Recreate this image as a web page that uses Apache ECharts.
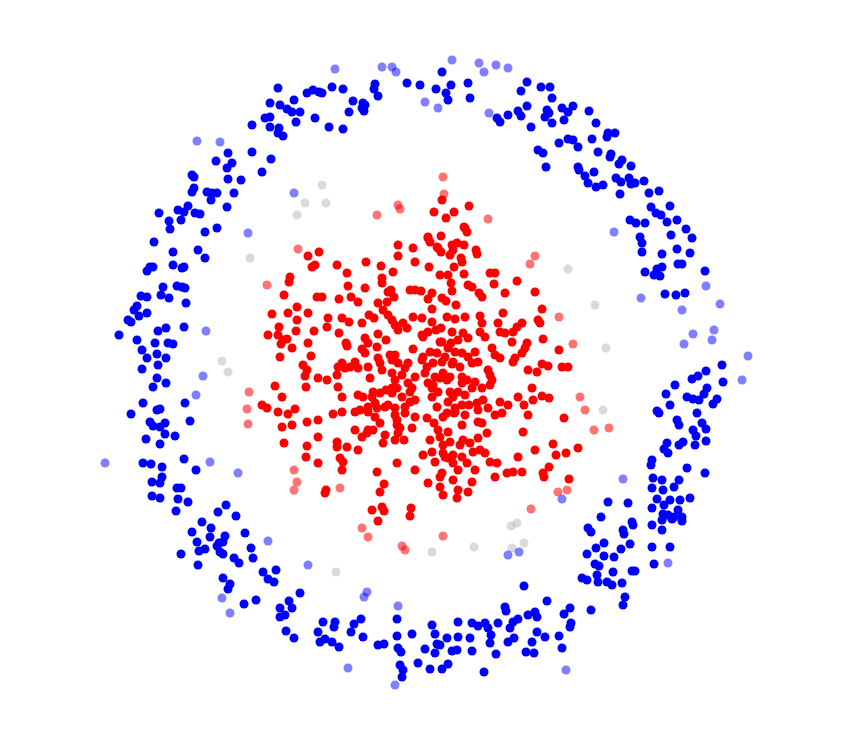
<!DOCTYPE html>
<html>
<head>
<meta charset="utf-8">
<script src="https://cdn.jsdelivr.net/npm/echarts@6/dist/echarts.min.js"></script>
<style>html,body{margin:0;padding:0;background:#fff;}#c{width:854px;height:734px;}</style>
</head>
<body>
<div id="c"></div>
<script>
// Cluster 1 (outer ring) core points
var ringCore = [
[-149,279],[-120,274],[-114,277],[-108,275],[-133,267],[-157,264],[-147,262],[-140,258],[-135,255],[-127,255],[-162,249],[-157,250],[-131,245],[-112,249],[-175,242],[-157,240],[-148,239],[-149,234],[-144,231],[-199,214],[-175,215],[-156,208],[-211,206],[-195,204],[-200,199],[-165,195],[-235,192],[-233,190],[-199,188],[-186,187],[-233,179],[-235,175],[-220,175],[-215,174],[-210,174],[-193,174],[-216,167],[-200,160],[-239,161],[-249,157],[-243,155],[-268,154],[-232,154],[-227,153],[-258,146],[-246,147],[-257,138],[-222,135],[-210,139],[-273,125],[-254,115],[-229,117],[-222,109],
[-105,274],[-95,280],[-84,278],[-74,266],[-64,264],[-65,259],[-63,256],[-62,262],[-78,255],[-98,240],[-84,238],[-52,283],[-53,278],[-49,271],[-20,284],[-7,282],[15,295],[9,278],[19,274],[24,282],[21,267],[41,284],[43,269],[100,285],[94,276],[91,256],[94,251],[100,261],[70,249],[73,245],[81,252],[104,240],
[114,280],[123,280],[125,269],[120,257],[122,254],[118,250],[125,244],[135,259],[141,255],[146,261],[137,247],[162,256],[169,244],[181,234],[188,234],[180,230],[132,224],[141,228],[146,227],[151,220],[165,228],[171,215],[184,213],[183,210],[195,207],[192,203],[204,201],[111,217],[116,214],[119,200],[151,200],[152,197],[167,195],[158,191],[161,184],[169,180],[176,182],[189,189],[194,185],[202,189],[204,183],[208,184],[217,186],[193,173],[222,174],[232,176],[243,161],[224,160],[229,154],[234,152],[240,145],[250,147],[203,147],[209,144],[218,144],[259,138],[265,129],[244,132],[213,130],[215,124],[215,115],[235,113],[250,118],[263,114],
[-277,100],[-280,96],[-274,100],[-254,102],[-245,99],[-243,100],[-264,80],[-266,72],[-258,69],[-250,81],[-245,80],[-242,79],[-241,64],[-286,71],[-280,70],[-290,61],[-293,57],[-280,54],[-288,51],[-299,47],[-296,45],[-308,32],[-290,27],[-269,36],[-261,39],[-243,40],[-272,24],[-259,24],[-254,23],[-285,17],[-280,9],[-270,13],[-261,9],[-269,2],[-285,-2],[-270,-11],[-261,-16],[-274,-20],[-284,-36],[-296,-47],[-270,-43],[-267,-42],[-242,-36],[-237,-54],[-277,-55],[-274,-59],[-262,-56],[-267,-60],[-262,-67],[-252,-69],[-281,-72],[-267,-77],[-284,-96],[-276,-97],[-265,-100],[-243,-92],[-231,-103],
[218,95],[227,92],[230,98],[235,100],[233,91],[251,103],[255,103],[278,96],[238,73],[249,72],[258,74],[295,2],[279,-4],[271,-9],[265,-12],[296,-15],[248,-18],[280,-21],[277,-27],[260,-30],[266,-32],[272,-33],[239,-27],[243,-38],[290,-32],[286,-37],[230,-44],[232,-46],[270,-46],[250,-53],[252,-58],[275,-56],[266,-63],[279,-62],[269,-69],[279,-74],[256,-75],[252,-78],[240,-76],[237,-82],[241,-86],[268,-78],[225,-93],[224,-98],[260,-101],[278,-106],
[-265,-110],[-275,-115],[-267,-116],[-250,-121],[-246,-121],[-275,-129],[-267,-131],[-249,-132],[-239,-135],[-251,-144],[-201,-138],[-209,-145],[-191,-149],[-225,-155],[-216,-161],[-235,-165],[-217,-170],[-202,-169],[-182,-166],[-230,-175],[-208,-176],[-204,-175],[-210,-179],[-228,-184],[-222,-182],[-207,-185],[-204,-187],[-246,-187],[-176,-181],[-174,-191],[-193,-191],[-188,-196],[-229,-198],[-164,-205],[-151,-203],[-159,-212],[-153,-215],[-204,-211],[-197,-217],[-199,-222],[-127,-226],[-171,-233],[-183,-237],[-138,-234],[-147,-241],[-135,-241],[-147,-250],[-142,-248],[-141,-264],[-133,-271],
[97,-219],[-104,-255],[-92,-255],[-93,-260],[-109,-265],[-107,-275],[-102,-272],[-95,-275],[-88,-280],[-76,-265],[-73,-257],[-66,-252],[-64,-270],[-49,-278],[-43,-277],[-30,-252],[-30,-269],[-29,-281],[-26,-285],[-27,-298],[-24,-303],[-25,-310],[-15,-267],[-9,-296],[-2,-282],[5,-258],[8,-267],[10,-277],[8,-286],[13,-278],[20,-271],[25,-284],[30,-283],[3,-302],[15,-302],[21,-297],[31,-255],[31,-270],[45,-256],[43,-271],[45,-284],[51,-259],[58,-256],[61,-261],[64,-268],[63,-276],[71,-256],[69,-287],[57,-305],[78,-240],[79,-244],[86,-255],[91,-252],[83,-261],[87,-271],[81,-275],[101,-248],[108,-245],[110,-250],[110,-265],[105,-275],[99,-285],[107,-286],
[226,-111],[235,-113],[252,-113],[247,-120],[236,-123],[225,-121],[230,-132],[243,-133],[253,-133],[263,-131],[225,-141],[237,-138],[236,-147],[241,-148],[247,-150],[255,-150],[255,-154],[245,-152],[235,-153],[225,-158],[235,-163],[251,-143],[181,-135],[201,-136],[174,-150],[161,-161],[164,-165],[196,-163],[197,-167],[206,-158],[205,-155],[177,-176],[169,-181],[203,-177],[194,-182],[160,-187],[177,-189],[187,-190],[225,-180],[243,-180],[227,-197],[168,-197],[172,-199],[205,-204],[208,-204],[186,-205],[170,-208],[155,-211],[160,-213],[171,-215],[180,-215],[185,-218],[195,-216],[198,-230],[196,-238],[164,-243],[120,-234],[143,-241],[137,-247],[144,-256],[143,-260],[118,-270],[132,-269],[135,-281]
];
// Cluster 1 border points
var ringBorder = [
[-230,226],[-207,225],[-133,174],[-179,134],[-92,298],[-45,300],[-35,300],[-31,295],[25,307],[52,304],[57,295],[69,302],[81,299],[-2,265],[11,259],[62,254],[187,135],[-221,36],[-224,-9],[-231,-28],[-322,-96],[-217,-95],[-189,-106],[214,69],[279,81],[293,63],[255,57],[287,37],[266,33],[285,27],[257,23],[321,11],[315,-13],[-159,-174],[-119,-198],[-205,-231],[-197,-246],[-60,-225],[-63,-230],[-29,-239],[81,-188],[92,-185],[-79,-301],[-32,-318],[135,-132],[196,-112],[241,-196],[139,-303]
];
// Cluster 2 (centre) core points
var centreCore = [
[-119,111],
[-108,115],[15,167],[42,161],[7,155],[27,155],[19,149],[37,140],[40,135],[1,130],[14,131],[3,125],[10,120],[25,122],[30,124],[37,122],[26,117],[14,115],[23,112],[34,109],[49,117],[50,113],[-29,122],[-14,119],[-29,111],[38,139],[1,129],[11,119],
[-115,100],[-112,102],[-137,90],[-138,85],[-143,72],[-110,70],[-130,60],[-139,54],[-119,54],[-155,53],[-130,47],[-148,40],[-131,36],[-113,36],[-159,32],[-149,32],[-144,27],[-140,28],[-146,23],[-135,19],[-119,24],[-147,10],[-116,11],[-124,2],[-120,-3],[-122,-9],[-109,-11],[-152,-19],[-121,-20],[-145,-30],[-165,-38],[-160,-41],[-149,-45],[-139,-47],[-132,-42],[-145,-60],[-135,-58],[-120,-55],[-109,-53],[-109,-70],[-143,-76],[-120,-79],[-121,-90],[-109,-96],
[-90,102],[-80,94],[-61,105],[-46,101],[-34,95],[-12,105],[2,100],[27,100],[35,105],[13,92],[21,92],[37,93],[63,94],[68,94],[90,86],
[-45,89],[-45,84],[-79,81],[-62,79],[-36,77],[-39,75],[-17,77],[-12,77],[-6,76],[5,74],[24,84],[25,76],[41,82],[45,80],[52,74],[67,83],[78,74],[108,75],
[-105,70],[-88,68],[-76,70],[-69,65],[-49,64],[-40,65],[-33,70],[1,68],[15,69],[19,66],[29,62],[55,70],[5,58],[-44,57],
[-99,49],[-85,49],[-78,45],[-65,44],[-58,52],[-53,49],[-39,52],[-35,47],[-32,42],[-24,44],[-14,50],[-5,49],[5,45],[20,50],[28,48],[38,50],[53,51],[55,44],[76,54],[71,44],[90,40],[95,44],
[-100,40],[-88,34],[-62,29],[-49,33],[-41,27],[-29,37],[-20,39],[-5,32],[1,35],[9,37],[14,39],[25,35],[36,34],[41,29],[53,35],[58,30],[73,35],[78,34],[86,35],[100,24],[85,25],
[-81,24],[-80,21],[-65,18],[-62,14],[-50,20],[-32,12],[-14,18],[-4,10],[3,15],[15,25],[21,19],[24,24],[28,15],[35,14],[48,15],[41,10],[65,19],[68,12],[73,9],[88,9],[95,14],[98,19],
[-89,0],[-82,-1],[-72,5],[-69,-1],[-59,0],[-49,9],[-45,-3],[-35,7],[-29,4],[-22,-1],[-25,-8],[-12,-10],[-5,7],[0,0],[6,4],[15,5],[25,3],[33,0],[45,4],[51,5],[61,-3],[63,-8],[-100,-13],[-90,-8],[101,-3],[110,-5],
[-89,-20],[-85,-30],[-57,-11],[-32,-13],[-19,-16],[-15,-21],[1,-16],[8,-10],[13,-11],[5,-21],[20,-13],[35,-16],[40,-13],[48,-15],[45,-21],[55,-21],[31,-25],[63,-18],[105,-21],
[-69,-28],[-64,-30],[-55,-30],[-47,-26],[-41,-23],[-35,-21],[-52,-36],[-59,-40],[-42,-40],[-32,-41],[-25,-30],[-22,-40],[-12,-33],[5,-30],[10,-40],[21,-35],[26,-30],[28,-41],[38,-28],[42,-38],[50,-36],[56,-33],[61,-41],[73,-35],[81,-38],[91,-30],[97,-38],[106,-33],[-94,-47],[-85,-45],[-72,-45],[-67,-43],
[-59,-45],[-52,-50],[-47,-56],[-32,-48],[-12,-50],[0,-51],[7,-56],[16,-50],[27,-46],[35,-58],[51,-55],[68,-48],[75,-46],[101,-48],
[-72,-63],[-60,-66],[-54,-63],[-42,-68],[-30,-58],[-29,-66],[-15,-61],[-32,-73],[-23,-73],[3,-73],[11,-63],[13,-70],[23,-75],[33,-78],[43,-76],[51,-71],[60,-66],[96,-65],
[-90,-80],[-69,-83],[-87,-91],[-84,-95],[-85,-103],[-50,-105],[-30,-96],[-4,-88],[5,-85],[8,-95],[16,-86],[21,-91],[26,-96],[35,-90],[40,-96],[46,-85],[58,-86],[70,-96],[80,-106],[91,-90],[95,-105],[108,-83],[-12,-103],[15,-106],[31,-103],
[115,58],[111,47],[113,44],[116,28],[132,17],[115,3],[121,1],[135,0],[141,0],[115,-29],[122,-31],[137,-51],[126,-77],[129,-88],[139,-86],[151,-81],[122,-100],[116,-106],
[-101,-123],[-102,-126],[-47,-125],[-43,-117],[1,-116],[13,-120],[16,-128],[26,-113],[31,-123],[30,-131],[41,-125],[45,-115],[68,-110],[-55,-143],[-45,-140],[-43,-144],[-49,-154],[-16,-141],[-17,-149],
[117,-110],[142,-112],
[-59,24],[-37,12],[-19,4],[-85,4],[-77,0],[-47,4],[-35,-6],[-54,-25],[-35,-26],[-30,-21],[-17,-25],[-50,-41],[-39,-38],[-17,-35],[-30,-53],[-22,-46],[-65,-70],[-59,-63],[-27,-61],[-44,-76],[-90,-75],[-80,-80],
[-4,30],[13,25],[31,27],[10,14],[18,10],[26,5],[-2,-6],[16,-6],[23,-10],[35,-10],[6,-18],[11,-25],[23,-25],[20,-46],[28,-45],[35,-38],[38,-48],[21,-65],[16,-78],[36,-73],
[86,5],[65,-13],[51,-43],[55,-56],[53,-83],[48,-103],[63,-95],[86,-105],[13,-110],[18,-90],[26,-88]
];
// Cluster 2 border points
var centreBorder = [
[-129,118],[16,190],[17,173],[-29,162],[-27,158],[-50,152],[61,148],[108,111],[103,103],[-160,82],[-178,-25],[-180,-42],[-179,-57],[-133,-103],[132,50],[146,23],[153,-30],[158,-43],[167,-63],[182,-61],[-130,-115],[-133,-123],[-87,-121],[-65,-161],[-59,-170],[-25,-179],[-22,-183],[16,-169],[104,-142],[131,-125],[140,-123]
];
// Noise points
var noise = [
[-122,164],[-130,152],[-177,109],[-105,182],[-101,164],[-205,6],[-199,-5],[141,98],[168,62],[179,19],[176,-43],[-91,-205],[5,-185],[47,-180],[84,-159],[90,-156],[85,-181],[97,-176]
];

var chart = echarts.init(document.getElementById('c'), null, {renderer: 'canvas'});
function s(name, data, color, opacity) {
  return {
    name: name, type: 'scatter', data: data, symbolSize: 9,
    itemStyle: {color: color, opacity: opacity},
    emphasis: {disabled: true}, silent: true
  };
}
chart.setOption({
  animation: false,
  backgroundColor: '#fff',
  grid: {left: 0, right: 0, top: 0, bottom: 0},
  xAxis: {type: 'value', min: -427, max: 427, show: false},
  yAxis: {type: 'value', min: -367, max: 367, show: false},
  series: [
    s('noise', noise, '#bbbbbb', 0.55),
    s('ring border', ringBorder, '#0000ff', 0.5),
    s('centre border', centreBorder, '#ff0000', 0.55),
    s('ring', ringCore, '#0000ff', 1),
    s('centre', centreCore, '#ff0000', 1)
  ]
});
</script>
</body>
</html>
